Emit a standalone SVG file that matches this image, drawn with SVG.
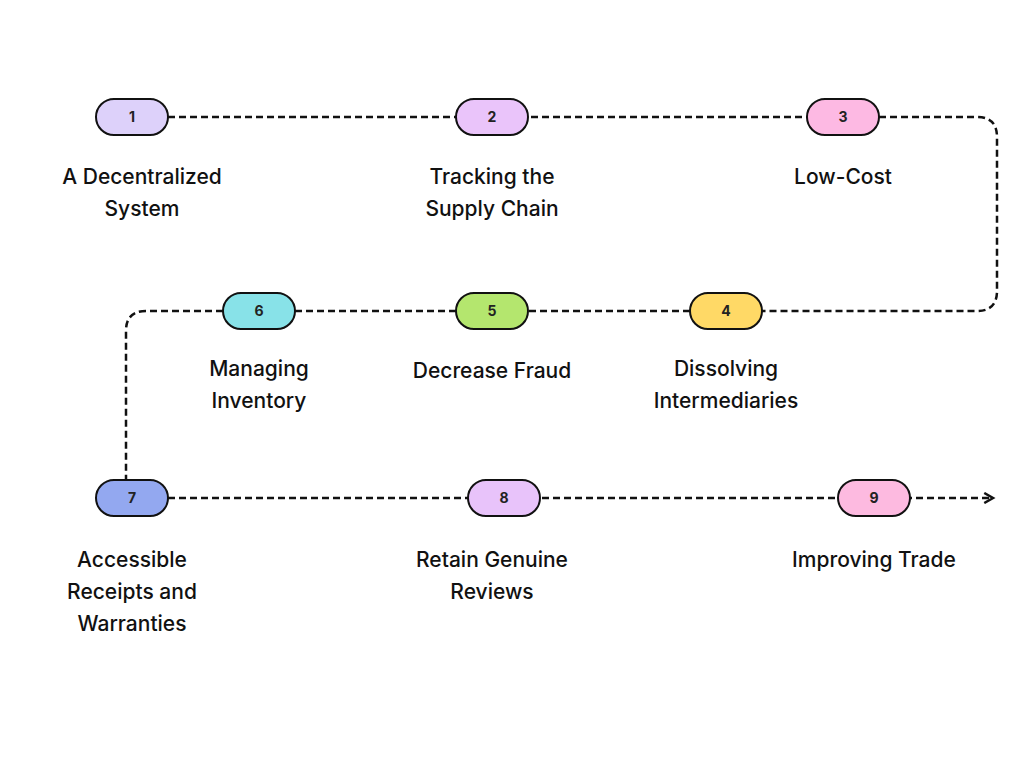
<svg xmlns="http://www.w3.org/2000/svg" width="1024" height="768" viewBox="0 0 1024 768">
<defs>
<style>
.p{stroke:#111;stroke-width:2}
.n{font-family:Inter,"Liberation Sans",sans-serif;font-size:14px;font-weight:700;fill:#222;text-anchor:middle}
.t{font-family:Inter,"Liberation Sans",sans-serif;font-size:21px;font-weight:500;fill:#111;text-anchor:middle}
.c{fill:none;stroke:#111;stroke-width:2.5;stroke-dasharray:7 4}
</style>
<marker id="a" viewBox="0 0 10 10" refX="8" refY="5" markerWidth="5" markerHeight="5" orient="auto"><path d="M1 1L8 5L1 9" fill="none" stroke="#111" stroke-width="2"/></marker>
</defs>
<rect width="1024" height="768" fill="#fff"/>
<g id="connectors">
<path class="c" d="M168 117H807M879 117H977Q997 117 997 137V291Q997 311 977 311H762M690 311H528M456 311H295M223 311H146Q126 311 126 331V480"/>
<path class="c" d="M168 498H993" marker-end="url(#a)"/>
</g>
<g id="n1"><rect class="p" x="96" y="99" width="72" height="36" rx="18" fill="#DDD1FA"/><text class="n" x="132" y="122">1</text><text class="t" x="142" y="184">A Decentralized</text><text class="t" x="142" y="216">System</text></g>
<g id="n2"><rect class="p" x="456" y="99" width="72" height="36" rx="18" fill="#EAC4FA"/><text class="n" x="492" y="122">2</text><text class="t" x="492" y="184">Tracking the</text><text class="t" x="492" y="216">Supply Chain</text></g>
<g id="n3"><rect class="p" x="807" y="99" width="72" height="36" rx="18" fill="#FDB9E3"/><text class="n" x="843" y="122">3</text><text class="t" x="843" y="184">Low-Cost</text></g>
<g id="n4"><rect class="p" x="690" y="293" width="72" height="36" rx="18" fill="#FFD966"/><text class="n" x="726" y="316">4</text><text class="t" x="726" y="376">Dissolving</text><text class="t" x="726" y="408">Intermediaries</text></g>
<g id="n5"><rect class="p" x="456" y="293" width="72" height="36" rx="18" fill="#B4E66E"/><text class="n" x="492" y="316">5</text><text class="t" x="492" y="378">Decrease Fraud</text></g>
<g id="n6"><rect class="p" x="223" y="293" width="72" height="36" rx="18" fill="#88E2E8"/><text class="n" x="259" y="316">6</text><text class="t" x="259" y="376">Managing</text><text class="t" x="259" y="408">Inventory</text></g>
<g id="n7"><rect class="p" x="96" y="480" width="72" height="36" rx="18" fill="#93A8F0"/><text class="n" x="132" y="503">7</text><text class="t" x="132" y="567">Accessible</text><text class="t" x="132" y="599">Receipts and</text><text class="t" x="132" y="631">Warranties</text></g>
<g id="n8"><rect class="p" x="468" y="480" width="72" height="36" rx="18" fill="#E8C3FA"/><text class="n" x="504" y="503">8</text><text class="t" x="492" y="567">Retain Genuine</text><text class="t" x="492" y="599">Reviews</text></g>
<g id="n9"><rect class="p" x="838" y="480" width="72" height="36" rx="18" fill="#FDBAE0"/><text class="n" x="874" y="503">9</text><text class="t" x="874" y="567">Improving Trade</text></g>
</svg>
